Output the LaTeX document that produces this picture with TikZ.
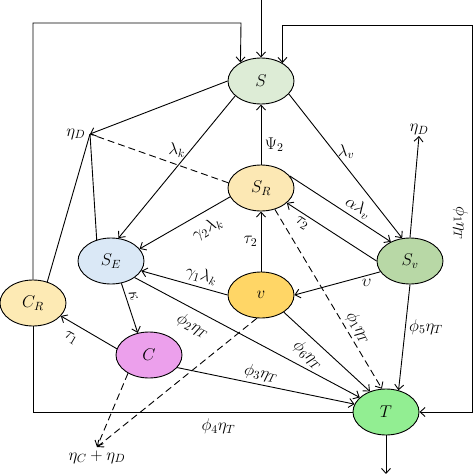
\RequirePackage{fix-cm}
\documentclass[tikz,border=0pt]{standalone}
\usetikzlibrary{shapes.geometric, positioning, arrows.meta}

\definecolor{sgreen}{RGB}{221,236,214}
\definecolor{srpeach}{RGB}{252,232,180}
\definecolor{vyellow}{RGB}{255,214,102}
\definecolor{seblue}{RGB}{218,232,246}
\definecolor{crpeach}{RGB}{253,234,180}
\definecolor{cpink}{RGB}{236,160,236}
\definecolor{svgreen}{RGB}{184,216,166}
\definecolor{tgreen}{RGB}{146,238,146}

\tikzset{
  comp/.style={ellipse, draw, minimum width=66pt, minimum height=46pt, inner sep=0pt},
  loss/.style={dash pattern=on 7pt off 4pt}
}

\begin{document}
\begin{tikzpicture}[x=1pt, y=1pt, >={Straight Barb[length=5pt,width=9pt]}, line width=0.9pt,
    node distance=107pt, on grid, font=\fontsize{17}{20}\selectfont]
	\useasboundingbox (0,0) rectangle (474,-474);

	\node[comp, fill=sgreen] 	(S) 	at (261,-81)					{$S$};
	\node[comp, fill=srpeach] 	(SR) 	[below=of S]					{$S_R$};
	\node[comp, fill=vyellow] 	(v) 	[below=of SR]					{$v$};
	\node[comp, fill=seblue] 	(SE) 	[below left=73pt and 150pt of SR]	{$S_E$};
	\node[comp, fill=svgreen] 	(Sv) 	[below right=73pt and 149pt of SR]	{$S_v$};
	\node[comp, fill=crpeach] 	(CR) 	[below left=42pt and 78pt of SE]	{$C_R$};
	\node[comp, fill=cpink] 	(C) 	[below right=94pt and 38pt of SE]	{$C$};
	\node[comp, fill=tgreen] 	(T) 	[below right=117pt and 125pt of v]	{$T$};

	\coordinate 									(in) 	at (261,0);
	\coordinate 									(out) 	at (386,-474);
	\coordinate[label={[label distance=1pt]left:$\eta_D$}] 	(dl) 	at (90,-134);
	\coordinate[label={[label distance=-3pt]above:$\eta_D$}] 	(dr) 	at (419,-136);
	\coordinate[label={[label distance=0pt]below:$\eta_C + \eta_D$}] (dcd) at (97,-447);
	\coordinate 									(tl) 	at (241,-23);
	\coordinate 									(tr) 	at (472,-25);

	\draw[->] (in) -- (S);
	\draw[->] (T) -- (out);
	\draw[->] (CR.north) |- (tl) -- (S.138);
	\draw[<->] (S.40) |- (tr) |- node[pos=0.256, rotate=-90, below] {$\phi_1\eta_T$} (T.east);
	\draw (CR.south) |- node[pos=0.79, below=3pt] {$\phi_4\eta_T$} (T.west);

	\path[->]
		(S.210) 	edge 	node[pos=0.38, left=2pt] 		{$\lambda_k$} 		(SE.72)
		(S.-25) 	edge 	node[pos=0.4, right] 			{$\lambda_v$} 		(Sv.109)
		(S.west) 	edge 											(dl)
		(SR) 		edge 	node[pos=0.33, right] 			{$\Psi_2$} 		(S)
		(v) 		edge 	node[left] 					{$\tau_2$} 		(SR)
		(SR.196) 	edge 	node[pos=0.34, sloped, below=5pt] 	{$\gamma_2\lambda_k$} (SE.23)
		(v.west) 	edge 	node[pos=0.34, sloped, above] 	{$\gamma_1\lambda_k$} (SE.-18)
		(SR.23) 	edge 	node[pos=0.62, sloped, above] 	{$\alpha\lambda_v$} (Sv.135)
		(Sv.west) 	edge 	node[pos=0.78, sloped, below] 	{$\tau_2$} 		(SR.-30)
		(Sv.200) 	edge 	node[pos=0.16, below] 			{$\upsilon$} 		(v.east)
		(Sv.north) 	edge 											(dr)
		(Sv.south) 	edge 	node[pos=0.4, right] 			{$\phi_5\eta_T$} 	(T.60)
		(v.-37) 	edge 	node[pos=0.4, sloped, below=4pt] 	{$\phi_6\eta_T$} 	(T.128)
		(SE.-35) 	edge 	node[pos=0.29, sloped, below=4pt] 	{$\phi_2\eta_T$} 	(T.151)
		(C.-24) 	edge 	node[pos=0.46, sloped, above] 	{$\phi_3\eta_T$} 	(T.166)
		(SE.-65) 	edge 	node[pos=0.3, sloped, above] 	{$\kappa$} 		(C.117)
		(C.169) 	edge 	node[pos=0.7, sloped, below=5pt] 	{$\tau_1$} 		(CR.-25)
		(SR.-57) 	edge[loss] node[pos=0.69, sloped, above] {$\phi_1\eta_T$} 	(T.100)
		(C.221) 	edge[loss] 										(dcd)
		(v.260) 	edge[loss] 										(dcd)
		;
	\path
		(SR.171) 	edge[loss] 										(dl)
		(SE.124) 	edge 											(dl)
		(CR.56) 	edge 											(dl)
		;
\end{tikzpicture}
\end{document}
